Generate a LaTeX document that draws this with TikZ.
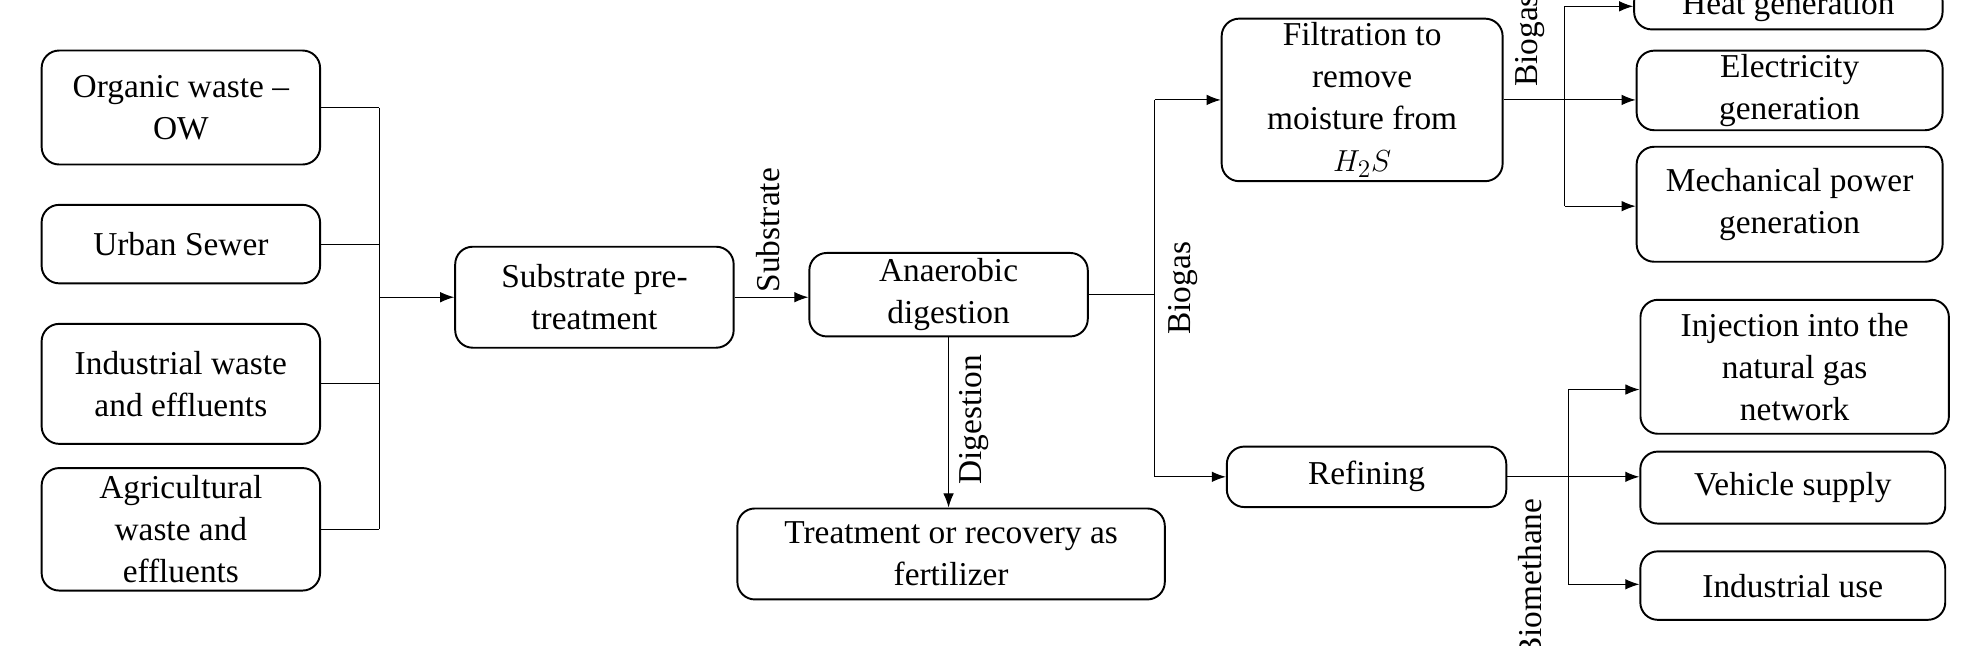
\documentclass[tikz,border=0pt]{standalone}
\usepackage{fontspec}
\setmainfont{Liberation Serif}
\usetikzlibrary{arrows.meta}
\begin{document}
\begin{tikzpicture}[x=0.0253cm,y=-0.0253cm,
  box/.style={draw,line width=1.1pt,rounded corners=0.35cm,align=center,inner sep=2pt,font=\fontsize{19}{24}\selectfont},
  lbl/.style={rotate=90,font=\fontsize{19}{24}\selectfont,inner sep=1pt},
  ln/.style={line width=0.6pt},
  arr/.style={ln,-{Latex[length=8pt,width=6pt]}}]
\useasboundingbox (0,0) rectangle (1560,510);
\clip (0,0) rectangle (1560,510);
\node[box,minimum width=5.57cm,minimum height=2.28cm] (ow) at (143,85) {Organic waste –\\OW};
\node[box,minimum width=5.57cm,minimum height=1.57cm] (urb) at (143,193) {Urban Sewer};
\node[box,minimum width=5.57cm,minimum height=2.40cm] (ind) at (143,303.5) {Industrial waste\\and effluents};
\node[box,minimum width=5.57cm,minimum height=2.45cm] (agr) at (143,418.5) {Agricultural\\waste and\\effluents};
\node[box,minimum width=5.57cm,minimum height=2.02cm] (pre) at (470,235) {Substrate pre-\\treatment};
\node[box,minimum width=5.57cm,minimum height=1.67cm] (ana) at (750,233) {Anaerobic\\digestion};
\node[box,minimum width=8.55cm,minimum height=1.82cm] (trt) at (752,438) {Treatment or recovery as\\fertilizer};
\node[box,minimum width=5.62cm,minimum height=3.21cm] (fil) at (1077,79) {Filtration to\\remove\\moisture from\\$H_2S$};
\node[box,minimum width=5.59cm,minimum height=1.21cm] (ref) at (1080.5,377) {Refining};
\node[box,minimum width=6.17cm,minimum height=0.91cm,anchor=south] (heat) at (1414,24) {Heat generation};
\node[box,minimum width=6.12cm,minimum height=1.59cm] (ele) at (1415,71.5) {Electricity\\generation};
\node[box,minimum width=6.12cm,minimum height=2.30cm] (mec) at (1415,161.5) {Mechanical power\\generation};
\node[box,minimum width=6.17cm,minimum height=2.68cm] (inj) at (1419,290) {Injection into the\\natural gas\\network};
\node[box,minimum width=6.10cm,minimum height=1.44cm] (veh) at (1417.5,385.5) {Vehicle supply};
\node[box,minimum width=6.10cm,minimum height=1.37cm] (iu) at (1417.5,463) {Industrial use};
% left bus
\coordinate (bus) at (300,235);
\foreach \n in {ow,urb,ind,agr} \draw[ln] (\n.east) -- (\n.east -| bus);
\draw[ln] (ow.east -| bus) -- (agr.east -| bus);
\draw[arr] (bus) -- (pre.west);
\draw[arr] (pre.east) -- (pre.east -| ana.west);
\node[lbl] (l1) at (607,182) {Substrate};
\draw[arr] (ana.south) -- (ana.south |- trt.north);
\node[lbl] (l2) at (770,332) {Digestion};
% biogas split
\coordinate (b1) at (913,233);
\draw[ln] (ana.east) -- (b1);
\draw[ln] (b1 |- fil.west) -- (b1 |- ref.west);
\draw[arr] (b1 |- fil.west) -- (fil.west);
\draw[arr] (b1 |- ref.west) -- (ref.west);
\node[lbl] (l3) at (935,228) {Biogas};
% filtration outputs
\coordinate (b2) at (1237,0);
\draw[arr] (fil.east) -- (fil.east -| ele.west);
\draw[ln] (b2 |- 0,5) -- (b2 |- 0,163);
\draw[arr] (b2 |- 0,5) -- (heat.west |- 0,5);
\draw[arr] (b2 |- 0,163) -- (mec.west |- 0,163);
\node[lbl] (l4) at (1210,32) {Biogas};
% refining outputs
\coordinate (b3) at (1240,0);
\draw[arr] (ref.east) -- (ref.east -| veh.west);
\draw[ln] (b3 |- 0,308) -- (b3 |- 0,462);
\draw[arr] (b3 |- 0,308) -- (inj.west |- 0,308);
\draw[arr] (b3 |- 0,462) -- (iu.west |- 0,462);
\node[lbl] (l5) at (1210,458) {Biomethane};
\end{tikzpicture}
\end{document}
